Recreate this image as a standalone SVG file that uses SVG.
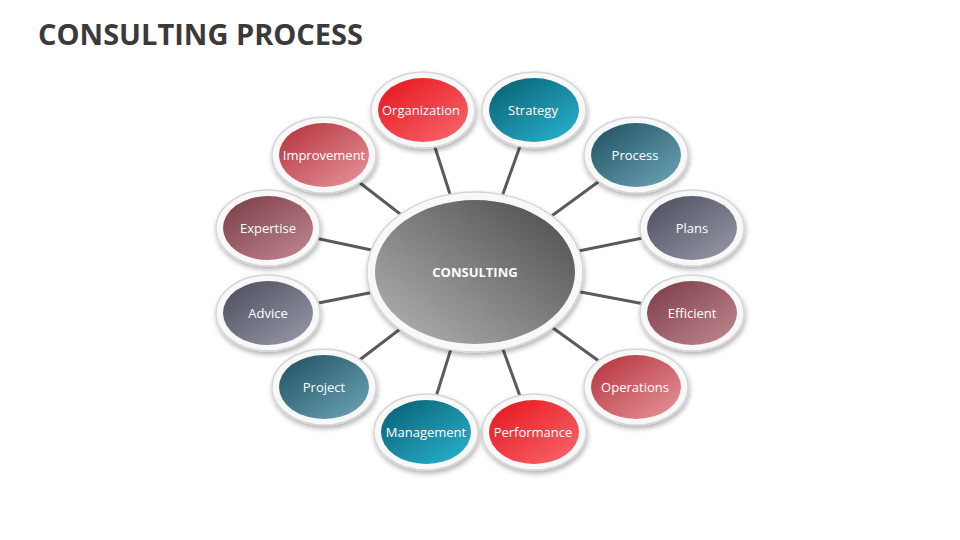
<svg xmlns="http://www.w3.org/2000/svg" width="960" height="540" viewBox="0 0 960 540">
<defs>
<linearGradient id="gRed" x1="0" y1="0" x2="1" y2="1"><stop offset="0" stop-color="#e5141a"/><stop offset="1" stop-color="#f9696f"/></linearGradient>
<linearGradient id="gTeal" x1="0" y1="0" x2="1" y2="1"><stop offset="0" stop-color="#075d70"/><stop offset="1" stop-color="#2ab6d2"/></linearGradient>
<linearGradient id="gSlate" x1="0" y1="0" x2="1" y2="1"><stop offset="0" stop-color="#1e4f60"/><stop offset="1" stop-color="#6ea7b8"/></linearGradient>
<linearGradient id="gGray" x1="0" y1="0" x2="1" y2="1"><stop offset="0" stop-color="#4a4c5c"/><stop offset="1" stop-color="#9a9cab"/></linearGradient>
<linearGradient id="gMauve" x1="0" y1="0" x2="1" y2="1"><stop offset="0" stop-color="#7a3a44"/><stop offset="1" stop-color="#c28a93"/></linearGradient>
<linearGradient id="gPink" x1="0" y1="0" x2="1" y2="1"><stop offset="0" stop-color="#b3303a"/><stop offset="1" stop-color="#e8979d"/></linearGradient>
<linearGradient id="gCenter" x1="1" y1="0" x2="0" y2="1"><stop offset="0" stop-color="#4a4a4a"/><stop offset="1" stop-color="#b5b5b5"/></linearGradient>
<filter id="sh" x="-20%" y="-20%" width="140%" height="150%"><feDropShadow dx="1" dy="3" stdDeviation="2.5" flood-opacity="0.3"/></filter>
</defs>
<style>
.ring{fill:#f8f8f8;stroke:#d6d6d6;stroke-width:1.5;filter:url(#sh)}
.lbl{font-family:"Open Sans","Liberation Sans",sans-serif;font-size:13px;fill:#fff;text-anchor:middle;dominant-baseline:central}
.conn line{stroke:#5a5a5a;stroke-width:3}
</style>
<rect width="960" height="540" fill="#fff"/>
<text x="38" y="45" font-family="'Open Sans','Liberation Sans',sans-serif" font-weight="bold" font-size="29" fill="#3a3a3a">CONSULTING PROCESS</text>
<g class="conn">
<line x1="475" y1="272" x2="423" y2="110"/><line x1="475" y1="272" x2="533" y2="110"/>
<line x1="475" y1="272" x2="635" y2="155"/><line x1="475" y1="272" x2="692" y2="228"/>
<line x1="475" y1="272" x2="692" y2="313"/><line x1="475" y1="272" x2="635" y2="387"/>
<line x1="475" y1="272" x2="533" y2="432"/><line x1="475" y1="272" x2="425" y2="432"/>
<line x1="475" y1="272" x2="324" y2="387"/><line x1="475" y1="272" x2="268" y2="313"/>
<line x1="475" y1="272" x2="268" y2="228"/><line x1="475" y1="272" x2="324" y2="155"/>
</g>
<g id="center"><ellipse class="ring" cx="475" cy="272" rx="108" ry="80"/><ellipse cx="475" cy="272" rx="100" ry="72" fill="url(#gCenter)"/><text class="lbl" x="475" y="272" font-size="20" font-weight="bold">CONSULTING</text></g>
<g id="organization"><ellipse class="ring" cx="423" cy="110" rx="52" ry="38"/><ellipse cx="423" cy="110" rx="45" ry="32" fill="url(#gRed)"/><text class="lbl" x="421" y="110">Organization</text></g>
<g id="strategy"><ellipse class="ring" cx="534" cy="110" rx="52" ry="38"/><ellipse cx="534" cy="110" rx="45" ry="32" fill="url(#gTeal)"/><text class="lbl" x="533" y="110">Strategy</text></g>
<g id="process"><ellipse class="ring" cx="636" cy="155" rx="52" ry="38"/><ellipse cx="636" cy="155" rx="45" ry="32" fill="url(#gSlate)"/><text class="lbl" x="635" y="155">Process</text></g>
<g id="plans"><ellipse class="ring" cx="692" cy="228" rx="52" ry="38"/><ellipse cx="692" cy="228" rx="45" ry="32" fill="url(#gGray)"/><text class="lbl" x="692" y="228">Plans</text></g>
<g id="efficient"><ellipse class="ring" cx="692" cy="313" rx="52" ry="38"/><ellipse cx="692" cy="313" rx="45" ry="32" fill="url(#gMauve)"/><text class="lbl" x="692" y="313">Efficient</text></g>
<g id="operations"><ellipse class="ring" cx="636" cy="387" rx="52" ry="38"/><ellipse cx="636" cy="387" rx="45" ry="32" fill="url(#gPink)"/><text class="lbl" x="635" y="387">Operations</text></g>
<g id="performance"><ellipse class="ring" cx="534" cy="432" rx="52" ry="38"/><ellipse cx="534" cy="432" rx="45" ry="32" fill="url(#gRed)"/><text class="lbl" x="533" y="432">Performance</text></g>
<g id="management"><ellipse class="ring" cx="426" cy="432" rx="52" ry="38"/><ellipse cx="426" cy="432" rx="45" ry="32" fill="url(#gTeal)"/><text class="lbl" x="426" y="432">Management</text></g>
<g id="project"><ellipse class="ring" cx="324" cy="387" rx="52" ry="38"/><ellipse cx="324" cy="387" rx="45" ry="32" fill="url(#gSlate)"/><text class="lbl" x="324" y="387">Project</text></g>
<g id="advice"><ellipse class="ring" cx="268" cy="313" rx="52" ry="38"/><ellipse cx="268" cy="313" rx="45" ry="32" fill="url(#gGray)"/><text class="lbl" x="268" y="313">Advice</text></g>
<g id="expertise"><ellipse class="ring" cx="268" cy="228" rx="52" ry="38"/><ellipse cx="268" cy="228" rx="45" ry="32" fill="url(#gMauve)"/><text class="lbl" x="268" y="228">Expertise</text></g>
<g id="improvement"><ellipse class="ring" cx="324" cy="155" rx="52" ry="38"/><ellipse cx="324" cy="155" rx="45" ry="32" fill="url(#gPink)"/><text class="lbl" x="324" y="155">Improvement</text></g>
</svg>
